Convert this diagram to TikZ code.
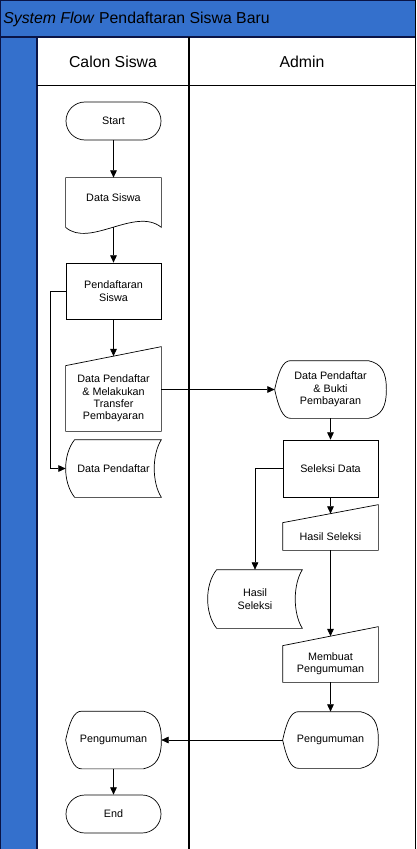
\documentclass[tikz,border=0pt]{standalone}
\usepackage{fontspec}
\setmainfont{Liberation Sans}
\usetikzlibrary{arrows.meta, calc}
\definecolor{laneblue}{RGB}{52,112,204}
\definecolor{lanenavy}{RGB}{10,20,70}
\tikzset{
    %Define standard arrow tip
    >={Triangle[length=2.2mm,width=2mm]},
}

\begin{document}
\begin{tikzpicture}[
    x=0.03cm, y=-0.03cm, line width=0.6pt,
    lbl/.style = {font=\fontsize{9.2}{10.5}\selectfont, align=center,
                  minimum width=2.85cm, inner sep=0pt},
    term/.style = {lbl, draw, rounded corners=0.57cm, minimum height=1.14cm},
    proc/.style = {lbl, draw, minimum height=1.68cm},
    shp/.style  = {lbl},
    head/.style = {font=\fontsize{13.5}{16}\selectfont},
  ]
  \useasboundingbox (0,0) rectangle (416,849);
  % lanes
  \fill[laneblue] (0,0) rectangle (416,37);
  \fill[laneblue] (0,37) rectangle (37,849);
  \draw[lanenavy] (0,849) -- (0,0) -- (416,0);
  \draw[lanenavy, line width=1.2pt] (0,37) -- (416,37);
  \draw[lanenavy, line width=1.2pt] (37,37) -- (37,849);
  \draw[line width=0.5pt] (37,85) -- (415,85);
  \draw[line width=1pt] (189,37) -- (189,849);
  \draw[line width=0.5pt] (415,0) -- (415,849);
  \node[head, anchor=west, inner sep=0pt] (title) at (3,19)
    {\textit{System Flow} Pendaftaran Siswa Baru};
  \node[head] (calon) at (113,62) {Calon Siswa};
  \node[head] (admin) at (302,62) {Admin};

  % calon siswa
  \node[term] (start) at (113.5,121) {Start};
  \node[shp, minimum height=1.2cm] (dsiswa) at (113.5,198) {Data Siswa};
  \node[proc] (psiswa) at (113.5,291) {Pendaftaran\\Siswa};
  \node[shp, minimum height=1.95cm] (dpt) at (113.5,398.5)
    {Data Pendaftar\\\& Melakukan\\Transfer\\Pembayaran};
  \node[shp, minimum height=1.71cm] (dpend) at (113.5,468.5) {Data Pendaftar};
  \node[shp, minimum height=1.71cm] (peng1) at (113.5,740) {Pengumuman};
  \node[term] (end) at (113.5,814) {End};

  % admin
  \node[shp, minimum width=3.33cm, minimum height=1.71cm] (dbukti) at (330.5,389.5)
    {Data Pendaftar\\\& Bukti\\Pembayaran};
  \node[proc, minimum height=1.71cm] (seleksi) at (330.5,468.5) {Seleksi Data};
  \node[shp, minimum height=0.81cm] (hsel) at (330.5,536.5) {Hasil Seleksi};
  \node[shp, minimum width=2.82cm, minimum height=1.74cm] (hselsd) at (255,599)
    {Hasil\\Seleksi};
  \node[shp, minimum height=1.08cm] (buat) at (330.5,664) {Membuat\\Pengumuman};
  \node[shp, minimum height=1.68cm] (peng2) at (330.5,740) {Pengumuman};

  % outlines
  \draw (dsiswa.south west) -- (dsiswa.north west) -- (dsiswa.north east)
    -- ($(dsiswa.south east)+(0,9)$)
    .. controls +(-26,-21) and +(24,21) .. ($(dsiswa.south west)+(0,9)$) -- cycle;
  \foreach \n/\h in {dpt/19, hsel/18, buat/19}
    \draw (\n.south west) -- (\n.north west) -- ($(\n.north east)+(0,-\h)$)
      -- (\n.south east) -- cycle;
  \foreach \n in {dpend, hselsd}
    \draw ($(\n.north west)+(9,0)$) -- (\n.north east)
      .. controls +(-9.5,15) and +(-9.5,-15) .. (\n.south east)
      -- ($(\n.south west)+(9,0)$)
      .. controls +(-12,-15) and +(-12,15) .. cycle;
  \foreach \n in {dbukti, peng1, peng2}
    \draw (\n.west) .. controls +(4,-18) and +(-8,0) .. ($(\n.north west)+(16,0)$)
      -- ($(\n.north east)+(-18,0)$)
      .. controls +(13,3) and +(0,-18) .. (\n.east)
      .. controls +(0,18) and +(13,-3) .. ($(\n.south east)+(-18,0)$)
      -- ($(\n.south west)+(16,0)$)
      .. controls +(-8,0) and +(4,18) .. cycle;

  % flow
  \draw[->] (start) -- (dsiswa);
  \draw[->] ($(dsiswa.south)+(0,9)$) -- (psiswa);
  \draw[->] (psiswa) -- ($(dpt.north)+(0,-9.5)$);
  \draw[->] (psiswa.west) -- ++(-15,0) |- (dpend.west);
  \draw[->] (dbukti.west -| dpt.east) -- (dbukti.west);
  \draw[->] (dbukti) -- (seleksi);
  \draw[->] (seleksi) -- ($(hsel.north)+(0,-9)$);
  \draw[->] (seleksi.west) -| (hselsd.north);
  \draw[->] (hsel) -- ($(buat.north)+(0,-9.5)$);
  \draw[->] (buat) -- (peng2);
  \draw[->] (peng2.west) -- (peng1.east);
  \draw[->] (peng1) -- (end);
\end{tikzpicture}
\end{document}
